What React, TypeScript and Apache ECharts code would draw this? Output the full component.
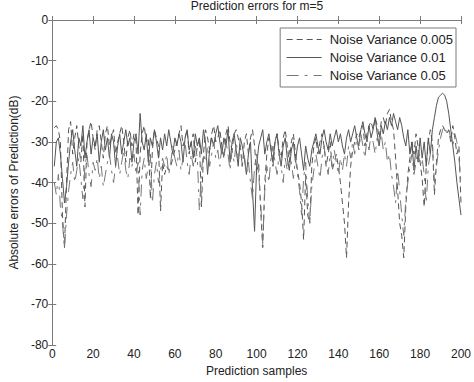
import React, { useEffect, useRef } from "react";
import * as echarts from "echarts";

const xTicks = [0, 20, 40, 60, 80, 100, 120, 140, 160, 180, 200];
const seriesNames = ["Noise Variance 0.005", "Noise Variance 0.01", "Noise Variance 0.05"];

const variance005 = [
  -26.5, -26, -27, -30, -48, -56, -40, -27, -25, -33, -29, -26, -31, -35, -28, -46, -30, -27, -25, -29,
  -32, -27, -26, -30, -34, -28, -26, -31, -29, -27, -33, -30, -28, -26, -30, -35, -29, -27, -31, -28,
  -30, -48, -33, -28, -26, -30, -29, -44, -32, -27, -29, -31, -47, -35, -38, -36, -37, -36, -34, -32,
  -30, -28, -26, -31, -29, -27, -33, -30, -28, -35, -31, -29, -46, -33, -27, -29, -32, -28, -26, -30,
  -29, -27, -31, -34, -28, -26, -30, -32, -28, -27, -29, -31, -36, -30, -28, -33, -29, -27, -31, -38,
  -35, -47, -56, -40, -33, -29, -31, -36, -30, -28, -32, -34, -29, -27, -31, -35, -30, -28, -33, -37,
  -40, -45, -54, -38, -48, -50, -36, -31, -29, -33, -30, -28, -31, -36, -33, -30, -37, -35, -33, -36,
  -40, -45, -50, -58.5, -45, -36, -32, -30, -28, -29, -27, -26, -31, -28, -26, -25, -27, -24, -26, -29,
  -25, -24, -26, -23, -22, -25, -27, -34, -42, -50, -53, -58.5, -46, -38, -34, -30, -33, -28, -31, -35,
  -39, -46, -36, -30, -27, -30, -43, -35, -29, -27, -26, -27, -28, -27, -30, -26, -29, -33, -31, -45,
];

const variance01 = [
  -36, -30, -29, -33, -39, -45, -41, -35, -30, -27, -32, -36, -29, -31, -26, -34, -30, -27, -33, -29,
  -31, -28, -35, -30, -27, -32, -29, -34, -28, -30, -36, -31, -28, -33, -30, -27, -31, -29, -35, -30,
  -28, -33, -23, -30, -32, -28, -35, -29, -31, -27, -30, -34, -29, -32, -28, -31, -27, -30, -33, -29,
  -31, -28, -30, -35, -29, -27, -32, -30, -34, -28, -31, -29, -33, -27, -30, -38, -32, -29, -31, -28,
  -26, -30, -33, -29, -31, -27, -35, -30, -28, -32, -36, -29, -31, -34, -38, -33, -30, -42, -52, -36,
  -31, -29, -27, -33, -30, -28, -32, -35, -30, -28, -33, -36, -31, -29, -34, -37, -32, -30, -35, -31,
  -29, -33, -37, -31, -34, -36, -32, -30, -28, -31, -33, -29, -27, -30, -32, -28, -31, -29, -27, -30,
  -28, -31, -33, -29, -27, -30, -28, -26, -29, -31, -27, -25, -28, -30, -26, -29, -27, -24, -28, -31,
  -26, -28, -25, -27, -24, -26, -23, -25, -27, -24, -26, -29, -31, -27, -33, -30, -37, -31, -35, -29,
  -34, -30, -36, -29, -33, -27, -24, -21, -19, -18.5, -18, -18.5, -20, -23, -27, -31, -35, -40, -44, -48,
];

const variance05 = [
  -40, -43, -38, -46, -50, -56, -48, -42, -38, -35, -40, -37, -34, -39, -44, -36, -33, -38, -41, -35,
  -37, -34, -39, -36, -41, -38, -35, -33, -37, -40, -36, -34, -38, -35, -32, -37, -39, -34, -36, -33,
  -38, -35, -48, -37, -34, -39, -36, -33, -45, -38, -35, -40, -37, -34, -36, -33, -38, -35, -31, -34,
  -36, -32, -37, -34, -30, -35, -38, -33, -36, -31, -34, -47, -37, -33, -35, -31, -36, -33, -30, -34,
  -32, -36, -31, -34, -30, -33, -37, -32, -35, -30, -34, -31, -36, -33, -38, -35, -40, -44, -36, -33,
  -38, -45, -55, -42, -36, -40, -34, -31, -35, -38, -33, -36, -40, -34, -37, -32, -35, -39, -34, -38,
  -42, -48, -39, -35, -44, -50, -41, -37, -33, -36, -39, -34, -31, -35, -38, -33, -36, -32, -35, -38,
  -34, -37, -33, -36, -31, -34, -30, -33, -29, -32, -28, -31, -34, -29, -32, -28, -30, -33, -29, -31,
  -28, -32, -30, -35, -33, -38, -41, -45, -37, -42, -48, -53, -44, -40, -36, -33, -38, -35, -32, -36,
  -34, -38, -45, -36, -33, -30, -40, -36, -32, -29, -27, -26, -28, -27, -29, -31, -28, -30, -34, -40,
];

const FONT = "'Liberation Sans', Arial, sans-serif";

export default function App() {
  const ref = useRef<HTMLDivElement>(null);
  useEffect(() => {
    if (!ref.current) return;
    const chart = echarts.init(ref.current, null, { renderer: "svg" });
    const toPairs = (arr: number[]) => arr.map((v, i) => [i + 1, v]);
    const axisLineStyle = { color: "#7a7a7a", width: 1 };
    const label = { color: "#222", fontSize: 12, fontFamily: FONT };
    chart.setOption({
      animation: false,
      backgroundColor: "#fff",
      textStyle: { fontFamily: FONT },
      title: {
        text: "Prediction errors for m=5",
        left: 252,
        top: -5,
        textAlign: "center",
        textStyle: { fontSize: 12, fontWeight: "normal", color: "#222", fontFamily: FONT },
      },
      grid: { left: 42, right: 11, top: 20, bottom: 31, containLabel: false },
      legend: {
        orient: "vertical",
        right: 18,
        top: 28,
        itemWidth: 35,
        itemHeight: 13,
        itemGap: 5,
        padding: [5, 3, 5, 6],
        backgroundColor: "#fff",
        borderColor: "#7a7a7a",
        borderWidth: 1,
        borderRadius: 0,
        itemStyle: { opacity: 0 },
        lineStyle: { width: 1 },
        textStyle: { color: "#222", fontSize: 13, fontFamily: FONT, padding: [0, 0, 0, 3] },
        data: seriesNames,
      },
      xAxis: [
        {
          type: "value",
          min: 0,
          max: 200,
          interval: 20,
          name: "Prediction samples",
          nameLocation: "middle",
          nameGap: 18,
          nameTextStyle: { color: "#222", fontSize: 12, fontFamily: FONT },
          axisLine: { show: true, lineStyle: axisLineStyle },
          axisTick: { show: true, inside: true, length: 4, lineStyle: axisLineStyle },
          axisLabel: { ...label, margin: 3 },
          splitLine: { show: false },
        },
        {
          type: "value",
          position: "top",
          min: 0,
          max: 200,
          interval: 20,
          axisLine: { show: true, lineStyle: axisLineStyle },
          axisTick: { show: true, inside: true, length: 4, lineStyle: axisLineStyle },
          axisLabel: { show: false },
          splitLine: { show: false },
        },
      ],
      yAxis: [
        {
          type: "value",
          min: -80,
          max: 0,
          interval: 10,
          name: "Absolute errors of Prediction(dB)",
          nameLocation: "middle",
          nameGap: 31,
          nameTextStyle: { color: "#222", fontSize: 12, fontFamily: FONT },
          axisLine: { show: true, lineStyle: axisLineStyle },
          axisTick: { show: true, inside: true, length: 4, lineStyle: axisLineStyle },
          axisLabel: { ...label, margin: 4 },
          splitLine: { show: false },
        },
        {
          type: "value",
          position: "right",
          min: -80,
          max: 0,
          interval: 10,
          axisLine: { show: true, lineStyle: axisLineStyle },
          axisTick: { show: true, inside: true, length: 4, lineStyle: axisLineStyle },
          axisLabel: { show: false },
          splitLine: { show: false },
        },
      ],
      series: [
        {
          name: seriesNames[0],
          type: "line",
          data: toPairs(variance005),
          symbol: "none",
          lineStyle: { color: "#555", width: 1, type: [6, 4] },
          itemStyle: { color: "#555" },
        },
        {
          name: seriesNames[1],
          type: "line",
          data: toPairs(variance01),
          symbol: "none",
          lineStyle: { color: "#555", width: 1, type: "solid" },
          itemStyle: { color: "#555" },
        },
        {
          name: seriesNames[2],
          type: "line",
          data: toPairs(variance05),
          symbol: "none",
          lineStyle: { color: "#777", width: 1, type: [12, 6, 3, 6] },
          itemStyle: { color: "#777" },
        },
      ],
    });
    return () => chart.dispose();
  }, []);
  return <div ref={ref} style={{ width: 474, height: 382, position: "absolute", left: 0, top: 0 }} />;
}
